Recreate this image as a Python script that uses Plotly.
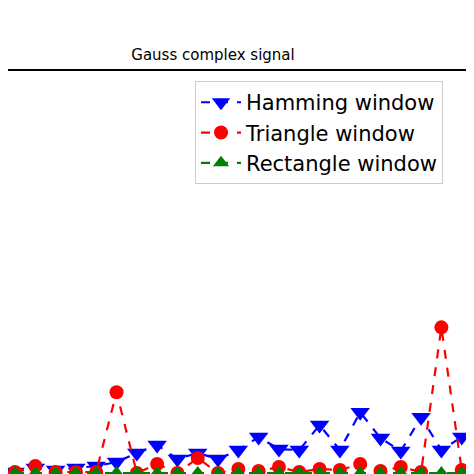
import plotly.graph_objects as go

idx = list(range(24))
hamming = [2, 6, 4, 6, 8, 12, 21, 29, 15, 21, 15, 24, 37, 25, 24, 49, 24, 62, 36, 23, 57, 24, 37, 34]
triangle = [2, 8, 2, 2, 2, 82, 1, 10, 1, 16, 1, 5, 3, 7, 2, 5, 4, 10, 3, 7, 2, 147, 4, 12]
rectangle = [1] * 24

fig = go.Figure()
fig.add_trace(go.Scatter(x=idx, y=hamming, name="Hamming window", mode="lines+markers",
    line=dict(color="#0000ff", dash="dash", width=2.2), marker=dict(symbol="triangle-down", size=17, color="#0000ff")))
fig.add_trace(go.Scatter(x=idx, y=triangle, name="Triangle window", mode="lines+markers",
    line=dict(color="#ff0000", dash="dash", width=2.2), marker=dict(symbol="circle", size=14, color="#ff0000")))
fig.add_trace(go.Scatter(x=idx, y=rectangle, name="Rectangle window", mode="lines+markers",
    line=dict(color="#008000", dash="dash", width=2.2), marker=dict(symbol="triangle-up", size=14, color="#008000")))

fig.update_layout(
    width=474, height=474, margin=dict(l=0, r=0, t=63, b=7, autoexpand=False),
    plot_bgcolor="white", paper_bgcolor="white", showlegend=True,
    font=dict(family="DejaVu Sans", color="black"),
    title=dict(text="Gauss complex signal", x=205/474, xanchor="center", y=1-47/474, yanchor="middle", font=dict(size=15)),
    legend=dict(x=187/474, y=0.975, xanchor="left", yanchor="top", font=dict(size=21),
                bordercolor="#cccccc", borderwidth=1, bgcolor="rgba(255,255,255,0.8)", itemwidth=40),
    xaxis=dict(range=[-0.345, 23.0], showgrid=False, zeroline=False, showline=True, linecolor="black",
               linewidth=1.5, mirror=True, ticks="outside", ticklen=6, tickcolor="black",
               tick0=-0.25, dtick=3.333, showticklabels=False),
    yaxis=dict(range=[-1, 404], showgrid=False, zeroline=False, showticklabels=False, showline=False),
)
fig.write_html("out.html")
